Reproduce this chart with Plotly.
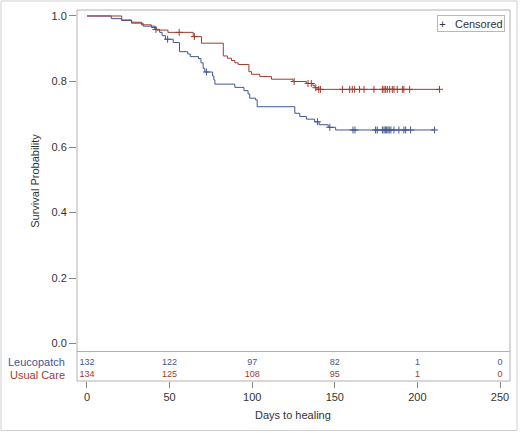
import plotly.graph_objects as go

# Kaplan-Meier steps: (day, survival probability)
leuco_times = [0, 14.7, 21, 27, 34, 41, 44, 45.5, 47.5, 52.2, 56, 61, 62.5, 67.5, 69, 70.3,
               71.3, 76, 76.8, 77.4, 89.5, 95, 97.5, 98.5, 102, 103, 125.8, 128.8, 132.8,
               137.8, 140.5, 146, 150.5, 210.4]
leuco_surv = [1.0, 0.992, 0.986, 0.978, 0.969, 0.959, 0.950, 0.940, 0.929, 0.919, 0.891, 0.884,
              0.876, 0.870, 0.857, 0.840, 0.829, 0.817, 0.805, 0.792, 0.782, 0.772, 0.762, 0.749,
              0.744, 0.723, 0.703, 0.693, 0.685, 0.677, 0.668, 0.660, 0.652, 0.652]
leuco_censor = [41.7, 48.8, 72.3, 139.5, 147, 161, 162.2, 174.7, 175.7, 178.8, 179.8, 180.6,
                181.4, 182.2, 183, 184, 185.8, 188.8, 191.8, 192.9, 195.9, 210.4]

usual_times = [0, 21, 27, 33, 39, 42, 49, 64.3, 69.3, 82.5, 85, 87.5, 89.5, 91.5, 98, 99.6,
               104.6, 111.7, 124.7, 132.8, 136.8, 138, 140, 213.4]
usual_surv = [1.0, 0.988, 0.981, 0.973, 0.965, 0.957, 0.950, 0.937, 0.917, 0.878, 0.871, 0.864,
              0.857, 0.852, 0.830, 0.822, 0.815, 0.807, 0.800, 0.794, 0.787, 0.781, 0.776, 0.776]
usual_censor = [55.8, 65, 125.4, 133.8, 135.8, 138.5, 140.3, 141.3, 154.6, 159, 160.6, 162,
                165, 167.7, 173.7, 178.8, 179.8, 180.8, 181.8, 183.2, 184.8, 185.8, 187.8,
                190.9, 191.8, 195.3, 213.4]

# numbers at risk
risk_days = [0, 50, 100, 150, 200, 250]
leuco_risk = [132, 122, 97, 82, 1, 0]
usual_risk = [134, 125, 108, 95, 1, 0]

y_ticks = [0.0, 0.2, 0.4, 0.6, 0.8, 1.0]
x_ticks = [0, 50, 100, 150, 200, 250]

BLUE = "#445694"
RED = "#A23A2E"
TXT = "#333333"
FONT = "Liberation Sans"


def surv_at(times, surv, t):
    # step lookup of the curve value at time t
    val = surv[0]
    for tt, ss in zip(times, surv):
        if tt <= t:
            val = ss
    return val


fig = go.Figure()

for times, surv, cens, color in [(leuco_times, leuco_surv, leuco_censor, BLUE),
                                 (usual_times, usual_surv, usual_censor, RED)]:
    fig.add_trace(go.Scatter(x=times, y=surv, mode="lines", line_shape="hv",
                             line=dict(color=color, width=1), showlegend=False,
                             hoverinfo="skip"))
    fig.add_trace(go.Scatter(x=cens, y=[surv_at(times, surv, c) for c in cens],
                             mode="markers", showlegend=False,
                             marker=dict(symbol="cross-thin", size=5,
                                         line=dict(color=color, width=1))))

# at-risk table
for vals, ypos, color in [(leuco_risk, 0.634, BLUE), (usual_risk, 0.203, RED)]:
    fig.add_trace(go.Scatter(x=risk_days, y=[ypos] * len(vals), mode="text",
                             text=[str(v) for v in vals], yaxis="y2",
                             textfont=dict(size=9, color=color, family=FONT),
                             showlegend=False, cliponaxis=False, hoverinfo="skip"))

table_top = 0.0795

fig.update_layout(
    width=520, height=433,
    margin=dict(l=77, r=10, t=10, b=52),
    paper_bgcolor="white", plot_bgcolor="white",
    font=dict(family=FONT, size=11, color=TXT),
    xaxis=dict(range=[-6.05, 256.05], tickvals=x_ticks, ticks="outside", ticklen=6,
               tickcolor="#888888", showgrid=False, zeroline=False, showline=False,
               anchor="y2", tickfont=dict(size=11, color=TXT)),
    yaxis=dict(domain=[table_top, 1], range=[-0.0244, 1.0183], tickvals=y_ticks,
               tickformat=".1f", ticks="outside", ticklen=7, tickcolor="#888888",
               showgrid=False, zeroline=False, showline=False,
               tickfont=dict(size=11, color=TXT)),
    yaxis2=dict(domain=[0, table_top], range=[0, 1], showticklabels=False,
                showgrid=False, zeroline=False, showline=False, ticks=""),
    showlegend=False,
    shapes=[
        dict(type="rect", xref="paper", yref="paper", x0=0, x1=1, y0=0, y1=1,
             line=dict(color="#B0B0B0", width=1)),
        dict(type="line", xref="paper", yref="paper", x0=0, x1=1, y0=table_top,
             y1=table_top, line=dict(color="#B0B0B0", width=1)),
        dict(type="rect", xref="paper", yref="paper", x0=-0.1755, x1=1.0162,
             y0=-0.1334, y1=1.0243, line=dict(color="#D0D0D0", width=1)),
    ],
    annotations=[
        dict(text="+   Censored", xref="paper", yref="paper", x=0.988, y=0.9865,
             xanchor="right", yanchor="top", showarrow=False, width=64, height=13,
             align="center", bordercolor="#B8B8B8", borderwidth=1, borderpad=1,
             bgcolor="white", font=dict(size=11, color=TXT)),
        dict(text="Leucopatch", xref="paper", yref="y2", x=-0.023, y=0.634,
             xanchor="right", yanchor="middle", showarrow=False,
             font=dict(size=11, color=BLUE)),
        dict(text="Usual Care", xref="paper", yref="y2", x=-0.023, y=0.203,
             xanchor="right", yanchor="middle", showarrow=False,
             font=dict(size=11, color=RED)),
        dict(text="Survival Probability", xref="paper", yref="paper", x=-0.097,
             y=(table_top + 1) / 2, textangle=-90, xanchor="center", yanchor="middle",
             showarrow=False, font=dict(size=11, color=TXT)),
        dict(text="Days to healing", xref="paper", yref="paper", x=(293 - 77) / 433,
             y=-0.0916, xanchor="center", yanchor="middle", showarrow=False,
             font=dict(size=11, color=TXT)),
    ],
)

fig.write_html("out.html", config={"displayModeBar": False},
               post_script="document.body.style.margin='0';")
